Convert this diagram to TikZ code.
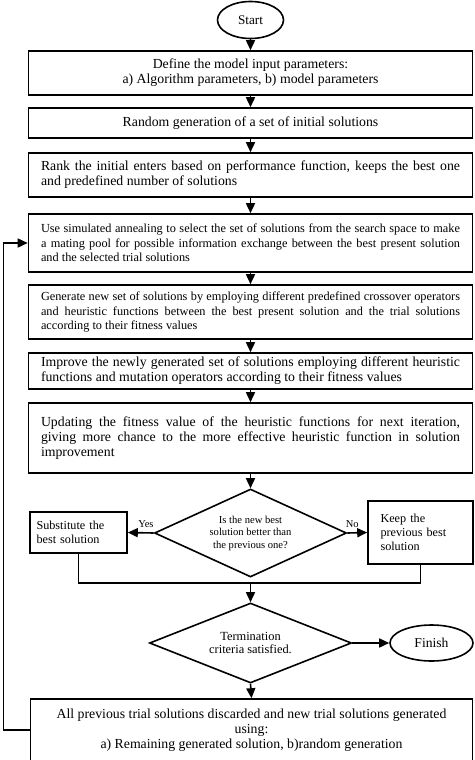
\documentclass[tikz,border=0pt]{standalone}
\usepackage{fontspec}
\setmainfont{Liberation Serif}
\usetikzlibrary{arrows.meta,shapes.geometric}

\begin{document}
\begin{tikzpicture}[x=1pt,y=-1pt]
    \useasboundingbox (0,0) rectangle (474,760);

    %Start and process boxes
     \begin{scope}[every node/.style={rectangle,line width=1.6pt,draw,inner sep=0pt,
        minimum width=444pt,font=\fontsize{13.8}{15}\selectfont}]
       \node[ellipse,minimum width=66pt,minimum height=37pt,font=\fontsize{13.2}{14}\selectfont] (start) at (250.5,20) {Start};
       \node[minimum height=44pt,align=center] (define) at (250.5,73) {Define the model input parameters:\\a) Algorithm parameters, b) model parameters};
       \node[minimum height=30pt] (random) at (250.5,123) {Random generation of a set of initial solutions};
       \node[minimum height=44pt,text width=419pt,align=justify] (rank) at (250.5,175) {Rank the initial enters based on performance function, keeps the best one\linebreak and predefined number of solutions};
       \node[minimum height=58pt,text width=419pt,align=justify,font=\fontsize{12.3}{14.5}\selectfont] (anneal) at (250.5,243) {Use simulated annealing to select the set of solutions from the search space to make\linebreak a mating pool for possible information exchange between the best present solution\linebreak and the selected trial solutions};
       \node[minimum height=54pt,text width=419pt,align=justify,font=\fontsize{12.3}{14.5}\selectfont] (cross) at (250.5,312) {Generate new set of solutions by employing different predefined crossover operators\linebreak and heuristic functions between the best present solution and the trial solutions\linebreak according to their fitness values};
       \node[minimum height=36pt,text width=419pt,align=justify] (improve) at (250.5,371) {Improve the newly generated set of solutions employing different heuristic\linebreak functions and mutation operators according to their fitness values};
       \node[minimum height=70pt,text width=419pt,align=justify] (update) at (250.5,438) {Updating the fitness value of the heuristic functions for next iteration,\linebreak giving more chance to the more effective heuristic function in solution\linebreak improvement};
    \end{scope}

    %Decisions and side boxes
     \begin{scope}[every node/.style={line width=1.6pt,draw,inner sep=0pt}]
       \node[diamond,aspect=2.2,minimum width=192pt,minimum height=88pt,align=center,
          font=\fontsize{10.6}{12.5}\selectfont] (better) at (250.5,533) {Is the new best\\solution better than\\the previous one?};
       \node[rectangle,minimum width=97pt,minimum height=41pt,text width=84pt,align=left,
          font=\fontsize{12.2}{14}\selectfont] (subst) at (78.5,532.5) {Substitute the\\best solution};
       \node[rectangle,minimum width=105pt,minimum height=63pt,text width=80pt,align=left,
          font=\fontsize{12.2}{14}\selectfont] (keep) at (420.5,532.5) {Keep the\\previous best\\solution};
       \node[diamond,aspect=2.5,minimum width=202pt,minimum height=80pt,align=center,
          font=\fontsize{12.4}{13.5}\selectfont] (term) at (250.5,643) {Termination\\criteria satisfied.};
       \node[ellipse,minimum width=83pt,minimum height=36pt,font=\fontsize{13.6}{14}\selectfont] (finish) at (431.5,643) {Finish};
       \node[rectangle,minimum width=442pt,minimum height=62pt,align=center,
          font=\fontsize{13.8}{14.8}\selectfont] (discard) at (251.5,730) {All previous trial solutions discarded and new trial solutions generated\\using:\\a) Remaining generated solution, b)random generation};
    \end{scope}

    \coordinate (merge) at (250.5,583);
    \coordinate (loop) at (3.5,243);

    %Connectors
     \begin{scope}[every edge/.style={draw,line width=1.6pt,-{Triangle[length=10pt,width=9pt]}},
        every node/.style={font=\fontsize{10.5}{12}\selectfont}]
      \path (start) edge (define);
      \path (define) edge (random);
      \path (random) edge (rank);
      \path (rank) edge (anneal);
      \path (anneal) edge (cross);
      \path (cross) edge (improve);
      \path (improve) edge (update);
      \path (update) edge (better);
      \path (better.west) edge node[pos=0.3,above=1pt] {Yes} (subst.east);
      \path (better.east) edge node[pos=0.25,above=1pt] {No} (keep.west);
      \path (merge) edge (term);
      \path (term.east) edge (finish.west);
      \path (term.south) edge (discard.north);
      \draw[line width=1.6pt] (subst.south) |- (merge) -| (keep.south);
      \draw[line width=1.6pt,-{Triangle[length=10pt,width=9pt]}] (discard.west) -| (loop) -- (anneal.west);
    \end{scope}
  \end{tikzpicture}
\end{document}
